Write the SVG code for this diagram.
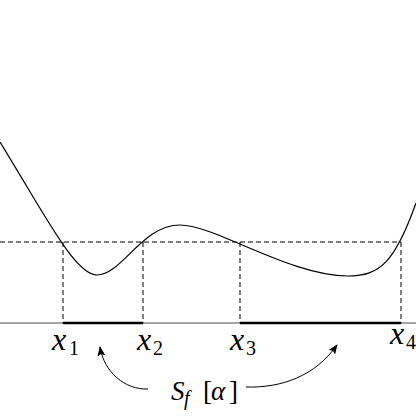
<svg xmlns="http://www.w3.org/2000/svg" width="416" height="416" viewBox="0 0 416 416">
<style>
.axis{stroke:#888;stroke-width:1.3;fill:none}
.dash{stroke:#000;stroke-width:1;stroke-dasharray:5,3;fill:none}
.curve{stroke:#000;stroke-width:1.2;fill:none}
.seg{stroke:#000;stroke-width:2.6;fill:none}
.arr{stroke:#000;stroke-width:1;fill:none;marker-end:url(#ah)}
text{font-family:'Liberation Serif','Times New Roman',serif;fill:#000}
.lab{font-style:italic;font-size:32px}
.sub{font-style:normal;font-size:20px}
.s{font-size:27px}
.it{font-style:italic}
</style>
<defs>
<marker id="ah" viewBox="0 0 10 8" refX="9" refY="4" markerWidth="10" markerHeight="8" markerUnits="userSpaceOnUse" orient="auto">
<path d="M0,0 L10,4 L0,8 L2,4 Z" fill="#000"/>
</marker>
</defs>
<g id="axes">
<line class="axis" x1="0" y1="323" x2="416" y2="323"/>
</g>
<g id="connectors">
<line class="dash" x1="0" y1="242" x2="401" y2="242"/>
<line class="dash" x1="63" y1="242" x2="63" y2="323"/>
<line class="dash" x1="143" y1="242" x2="143" y2="323"/>
<line class="dash" x1="240" y1="242" x2="240" y2="323"/>
<line class="dash" x1="401" y1="242" x2="401" y2="323"/>
<line class="seg" x1="63" y1="323" x2="143" y2="323"/>
<line class="seg" x1="240" y1="323" x2="401" y2="323"/>
<path class="arr" d="M148,389 C125,390 104,372 100,347"/>
<path class="arr" d="M246,387 C282,388 315,376 337,345"/>
</g>
<g id="curve">
<path class="curve" d="M0,142 C45,215 75,275 97,275 C122,275 142,225 180,225 C215,225 290,276 348,276 C380,276 395,262 416,203"/>
</g>
<g id="label-x1"><text class="lab" x="52" y="350">x</text><text class="sub" x="69" y="355">1</text></g>
<g id="label-x2"><text class="lab" x="137" y="350">x</text><text class="sub" x="153" y="355">2</text></g>
<g id="label-x3"><text class="lab" x="230" y="350">x</text><text class="sub" x="246" y="355">3</text></g>
<g id="label-x4"><text class="lab" x="390" y="344">x</text><text class="sub" x="406" y="349">4</text></g>
<g id="label-S">
<text class="s it" x="171" y="400">S</text>
<text class="sub it" x="184" y="405">f</text>
<text class="s" x="203" y="400">[</text>
<text class="s it" x="211" y="400">α</text>
<text class="s" x="229" y="400">]</text>
</g>
</svg>
